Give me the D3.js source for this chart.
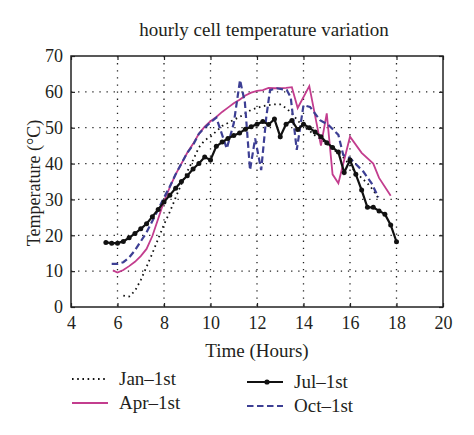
<!DOCTYPE html>
<html>
<head>
<meta charset="utf-8">
<script src="https://cdn.jsdelivr.net/npm/d3@7"></script>
<style>
  body { margin: 0; background: #fff; }
  text { font-family: "Liberation Serif", "DejaVu Serif", serif; fill: #231f20; }
</style>
</head>
<body>
<div id="chart"></div>
<script>
//values (hour of day, cell temperature in C)
var janHours = [6.25, 6.5, 6.75, 7, 7.25, 7.5, 7.75, 8, 8.25, 8.5, 8.75, 9, 9.25, 9.5, 9.75, 10, 10.25, 10.5, 10.75, 11, 11.25, 11.5, 11.75, 12, 12.25, 12.5, 12.75, 13, 13.25, 13.5, 13.75, 14, 14.25, 14.5, 14.75, 15, 15.25, 15.5, 15.75, 16, 16.25, 16.5, 16.75, 17, 17.2];
var janTemps = [3.2, 2.9, 4.5, 7.5, 11.2, 15, 19, 23, 26.5, 30.5, 34.3, 37.8, 41, 44.5, 46.5, 47.5, 49, 50.5, 51.3, 52.2, 53, 54, 55, 55.5, 56, 56.3, 56.5, 56.5, 55.5, 54, 52, 50.3, 49.2, 47.8, 46.8, 45.5, 44, 43, 41.5, 39.5, 37.5, 36, 34.5, 32.6, 30.5];

var aprHours = [5.8, 6, 6.25, 6.5, 6.75, 7, 7.25, 7.5, 7.75, 8, 8.25, 8.5, 8.75, 9, 9.25, 9.5, 9.75, 10, 10.25, 10.5, 10.75, 11, 11.25, 11.5, 11.75, 12, 12.25, 12.5, 12.75, 13, 13.25, 13.5, 13.75, 14.25, 14.75, 15, 15.25, 15.5, 16, 16.5, 17, 17.25, 17.75];
var aprTemps = [10.2, 9.6, 10.3, 11.4, 12.6, 14.2, 16.2, 19.8, 24.6, 29.5, 33.4, 37, 40, 43, 45.5, 48.3, 50.3, 51.8, 53, 54.4, 55.6, 56.8, 57.8, 59, 59.8, 60.3, 60.5, 61.1, 61, 61, 61.1, 61.3, 55.5, 61.6, 45, 54, 37, 34.5, 47.5, 43, 40, 36, 31];

var julHours = [5.5, 5.75, 6, 6.25, 6.5, 6.75, 7, 7.25, 7.5, 7.75, 8, 8.25, 8.5, 8.75, 9, 9.25, 9.5, 9.75, 10, 10.25, 10.5, 10.75, 11, 11.25, 11.5, 11.75, 12, 12.25, 12.5, 12.75, 13, 13.25, 13.5, 13.75, 14, 14.25, 14.5, 14.75, 15, 15.25, 15.5, 15.75, 16, 16.25, 16.5, 16.75, 17, 17.25, 17.5, 17.75, 18];
var julTemps = [18, 17.8, 17.8, 18.3, 19.3, 20.5, 21.8, 23.2, 25.2, 27.2, 29.3, 31.2, 33.1, 35, 36.6, 38.5, 40, 41.8, 41, 44.8, 46, 47, 47.8, 48.5, 49.6, 50.3, 51, 51.7, 50.9, 52.4, 47.5, 51, 52, 49.5, 51, 50, 48.8, 47.5, 45.8, 44.5, 43.2, 37.5, 41, 37, 32.6, 27.8, 27.8, 26.8, 25.9, 22.9, 18.2];

var octHours = [5.75, 6, 6.25, 6.5, 6.75, 7, 7.25, 7.5, 7.75, 8, 8.25, 8.5, 8.75, 9, 9.25, 9.5, 9.75, 10, 10.25, 10.7, 11, 11.27, 11.48, 11.7, 11.92, 12.18, 12.4, 12.56, 12.85, 13.28, 13.45, 13.71, 14, 14.28, 14.71, 15.07, 15.5, 15.71, 16, 16.29, 16.58, 16.93, 17.22];
var octTemps = [12, 12, 12.5, 13.8, 15.8, 18.3, 20.8, 24, 27.2, 30.5, 33.6, 37, 40, 43, 45.2, 48.3, 50, 51.5, 52.8, 44.2, 51.2, 63.3, 57, 38.2, 47, 38.2, 53, 60.5, 61, 60.5, 58.5, 43.8, 56.3, 55.8, 52.1, 50.8, 48, 42.4, 41.5, 39.6, 37.7, 34.5, 30.6];

var seriesNames = ["Jan\u20131st", "Apr\u20131st", "Jul\u20131st", "Oct\u20131st"];
var xTicks = [4, 6, 8, 10, 12, 14, 16, 18, 20];
var yTicks = [0, 10, 20, 30, 40, 50, 60, 70];

//set the dimensions and margins of the graph
var margin = {top: 56, right: 31, bottom: 128, left: 71},
    width = 474 - margin.left - margin.right,
    height = 435 - margin.top - margin.bottom;

var svg = d3.select("#chart").append("svg")
    .attr("width", 474)
    .attr("height", 435);

var g = svg.append("g")
    .attr("transform", "translate(" + margin.left + "," + margin.top + ")");

var x = d3.scaleLinear().domain([4, 20]).range([0, width]);
var y = d3.scaleLinear().domain([0, 70]).range([height, 0]);

//dotted grid
g.append("g").selectAll("line")
    .data(xTicks.slice(1, -1))
    .join("line")
    .attr("x1", d => x(d)).attr("x2", d => x(d))
    .attr("y1", 0).attr("y2", height)
    .attr("stroke", "#222").attr("stroke-width", 1.3)
    .attr("stroke-dasharray", "1.3,5.8");
g.append("g").selectAll("line")
    .data(yTicks.slice(1, -1))
    .join("line")
    .attr("y1", d => y(d)).attr("y2", d => y(d))
    .attr("x1", 0).attr("x2", width)
    .attr("stroke", "#222").attr("stroke-width", 1.3)
    .attr("stroke-dasharray", "1.3,5.8");

//axes with inward ticks
var fontSize = "18px";
var xAxis = g.append("g")
    .attr("transform", "translate(0," + height + ")")
    .call(d3.axisBottom(x).tickValues(xTicks).tickSizeInner(-4).tickSizeOuter(0).tickPadding(9));
var yAxis = g.append("g")
    .call(d3.axisLeft(y).tickValues(yTicks).tickSizeInner(-4).tickSizeOuter(0).tickPadding(8));
g.append("g")
    .call(d3.axisTop(x).tickValues(xTicks).tickSizeInner(-4).tickSizeOuter(0).tickFormat(""));
g.append("g")
    .attr("transform", "translate(" + width + ",0)")
    .call(d3.axisRight(y).tickValues(yTicks).tickSizeInner(-4).tickSizeOuter(0).tickFormat(""));
g.selectAll(".domain").remove();
g.selectAll(".tick line").attr("stroke", "#222").attr("stroke-width", 1.2);
[xAxis, yAxis].forEach(function(a) {
    a.selectAll("text").attr("font-size", fontSize)
        .attr("font-family", "Liberation Serif, serif").attr("fill", "#231f20");
});

//frame
g.append("rect")
    .attr("width", width).attr("height", height)
    .attr("fill", "none").attr("stroke", "#222").attr("stroke-width", 1.5);

//series lines
var line = d3.line().x(d => x(d[0])).y(d => y(d[1]));
function pairs(h, t) { return h.map((v, i) => [v, t[i]]); }

var jan = pairs(janHours, janTemps),
    apr = pairs(aprHours, aprTemps),
    jul = pairs(julHours, julTemps),
    oct = pairs(octHours, octTemps);

g.append("path").datum(jan).attr("d", line)
    .attr("fill", "none").attr("stroke", "#111").attr("stroke-width", 1.8)
    .attr("stroke-dasharray", "1.6,3.6");
g.append("path").datum(apr).attr("d", line)
    .attr("fill", "none").attr("stroke", "#c33d8e").attr("stroke-width", 1.8);
g.append("path").datum(oct).attr("d", line)
    .attr("fill", "none").attr("stroke", "#3d3f94").attr("stroke-width", 2.2)
    .attr("stroke-dasharray", "6.5,3.5");
g.append("path").datum(jul).attr("d", line)
    .attr("fill", "none").attr("stroke", "#111").attr("stroke-width", 2.2);
g.append("g").selectAll("circle")
    .data(jul)
    .join("circle")
    .attr("cx", d => x(d[0])).attr("cy", d => y(d[1]))
    .attr("r", 2.5).attr("fill", "#111");

//title and axis labels
svg.append("text")
    .attr("x", 264).attr("y", 36)
    .attr("text-anchor", "middle").attr("font-size", "19px")
    .text("hourly cell temperature variation");
svg.append("text")
    .attr("x", 257).attr("y", 357)
    .attr("text-anchor", "middle").attr("font-size", "19px")
    .text("Time (Hours)");
svg.append("text")
    .attr("transform", "translate(40,183) rotate(-90)")
    .attr("text-anchor", "middle").attr("font-size", "18px")
    .text("Temperature (\u00B0C)");

//legend
var legend = [
    {name: seriesNames[0], x: 72, y: 379, stroke: "#111", dash: "1.6,3.6", dot: false},
    {name: seriesNames[1], x: 72, y: 403, stroke: "#c33d8e", dash: null, dot: false},
    {name: seriesNames[2], x: 247, y: 382, stroke: "#111", dash: null, dot: true},
    {name: seriesNames[3], x: 247, y: 406, stroke: "#3d3f94", dash: "6.5,3.5", dot: false}
];
var lg = svg.append("g").selectAll("g").data(legend).join("g");
lg.append("line")
    .attr("x1", d => d.x).attr("x2", d => d.x + 36)
    .attr("y1", d => d.y).attr("y2", d => d.y)
    .attr("stroke", d => d.stroke).attr("stroke-width", 2.2)
    .attr("stroke-dasharray", d => d.dash);
lg.filter(d => d.dot).append("circle")
    .attr("cx", d => d.x + 20).attr("cy", d => d.y).attr("r", 2.6).attr("fill", "#111");
lg.append("text")
    .attr("x", d => d.x + 47).attr("y", d => d.y + 6)
    .attr("font-size", "19px")
    .text(d => d.name);
</script>
</body>
</html>
